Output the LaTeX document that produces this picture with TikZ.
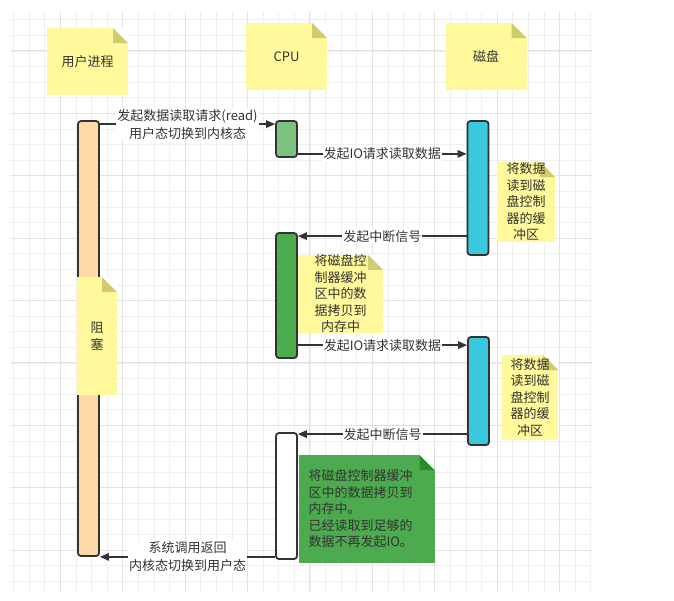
\documentclass[tikz,border=0pt]{standalone}
\usepackage{fontspec}
\setmainfont{Noto Sans CJK SC}
\usetikzlibrary{arrows.meta}

\definecolor{txt}{HTML}{333333}
\definecolor{gridc}{HTML}{EFEFEF}
\definecolor{gridd}{HTML}{E2E2E2}
\definecolor{notey}{HTML}{FFF99B}
\definecolor{notefold}{HTML}{CFCB6E}
\definecolor{peach}{HTML}{FFD9A8}
\definecolor{cpulight}{HTML}{7EC27F}
\definecolor{cpudark}{HTML}{4CAC4E}
\definecolor{diskc}{HTML}{3AC8DE}
\definecolor{notegreen}{HTML}{4CAB4E}
\definecolor{greenfold}{HTML}{2A8A2C}

\tikzset{
    gridminor/.style={draw=gridc, line width=0.6pt},
    gridmajor/.style={draw=gridd, line width=0.8pt},
    corner/.style={path picture={
        \fill[white] ([xshift=-15pt]path picture bounding box.north east)
            -- (path picture bounding box.north east)
            -- ([yshift=-15pt]path picture bounding box.north east) -- cycle;
        \fill[#1] ([xshift=-15pt]path picture bounding box.north east)
            -- ([yshift=-15pt]path picture bounding box.north east)
            -- ([xshift=-15pt,yshift=-15pt]path picture bounding box.north east) -- cycle;
    }},
    notebox/.style={fill=notey, corner=notefold, align=center, inner sep=0pt,
        font=\fontsize{13}{16.5}\selectfont},
    header/.style={notebox, minimum width=81pt, minimum height=67pt},
    bar/.style={draw=txt, line width=1.8pt, rounded corners=3pt, minimum width=21pt, inner sep=0pt},
    msg/.style={draw=txt, line width=1.4pt, -{Triangle[length=9pt,width=7.5pt]}},
    lbl/.style={fill=white, inner sep=1pt, align=center, text=txt}
}

\begin{document}
\begin{tikzpicture}[x=1pt, y=-1pt, font=\fontsize{13}{18}\selectfont, text=txt]
    \useasboundingbox (0,0) rectangle (674,600);
    \fill[white] (0,0) rectangle (674,600);
    % paper grid
    \foreach \i in {-3,...,34}
        \draw[gridminor] ({60.2+15.6*\i},12) -- ({60.2+15.6*\i},592);
    \foreach \j in {-2,...,34}
        \draw[gridminor] (10,{50.8+15.6*\j}) -- (592,{50.8+15.6*\j});
    \foreach \i in {0,...,8}
        \draw[gridmajor] ({60.2+62.4*\i},12) -- ({60.2+62.4*\i},592);
    \foreach \j in {0,...,8}
        \draw[gridmajor] (10,{50.8+62.4*\j}) -- (592,{50.8+62.4*\j});

    % headers
    \node[header] (huser) at (87.5,61.5) {用户进程};
    \node[header] (hcpu) at (286.5,56.5) {CPU};
    \node[header] (hdisk) at (486,56.5) {磁盘};

    % lifelines
    \node[bar, fill=peach, minimum height=435pt] (user) at (88.5,338.5) {};
    \node[notebox, minimum width=40pt, minimum height=118pt] (block) at (97,336) {阻\\塞};
    \node[bar, fill=cpulight, minimum height=36pt] (cpu1) at (286.5,139) {};
    \node[bar, fill=diskc, minimum height=134pt] (disk1) at (478,188) {};
    \node[bar, fill=cpudark, minimum height=125pt] (cpu2) at (286.5,295.5) {};
    \node[bar, fill=diskc, minimum height=108pt] (disk2) at (478.5,391) {};
    \node[bar, fill=white, minimum height=126pt] (cpu3) at (286.5,496) {};

    % notes
    \node[notebox, minimum width=58pt, minimum height=80pt] (nread1) at (526,202) {将数据\\读到磁\\盘控制\\器的缓\\冲区};
    \node[notebox, minimum width=85pt, minimum height=76pt] (ncopy) at (340.5,294) {将磁盘控\\制器缓冲\\区中的数\\据拷贝到\\内存中};
    \node[notebox, minimum width=56pt, minimum height=85pt] (nread2) at (530,397.5) {将数据\\读到磁\\盘控制\\器的缓\\冲区};
    \node[notebox, fill=notegreen, corner=greenfold, minimum width=136pt, minimum height=108pt,
        text width=116pt, align=left] (ndone) at (366.5,509) {将磁盘控制器缓冲\\区中的数据拷贝到\\内存中。\\已经读取到足够的\\数据不再发起IO。};

    % messages
    \draw[msg] ([yshift=-4pt]user.east |- cpu1.north) -- node[lbl] (l1) {发起数据读取请求(read)\\用户态切换到内核态} ([yshift=-4pt]cpu1.north west);
    \draw[msg] ([yshift=4pt]cpu1.south east) -- node[lbl] (l2) {发起IO请求读取数据} ([yshift=4pt]disk1.west |- cpu1.south);
    \draw[msg] ([yshift=-4pt]disk1.west |- cpu2.north) -- node[lbl] (l3) {发起中断信号} ([yshift=-4pt]cpu2.north east);
    \draw[msg] ([yshift=-9pt]cpu2.east |- disk2.north) -- node[lbl] (l4) {发起IO请求读取数据} ([yshift=-9pt]disk2.north west);
    \draw[msg] ([yshift=-2pt]disk2.west |- cpu3.north) -- node[lbl] (l5) {发起中断信号} ([yshift=-2pt]cpu3.north east);
    \draw[msg] ([yshift=3pt]cpu3.south west) -- node[lbl] (l6) {系统调用返回\\内核态切换到用户态} ([yshift=3pt]user.east |- cpu3.south);
\end{tikzpicture}
\end{document}
